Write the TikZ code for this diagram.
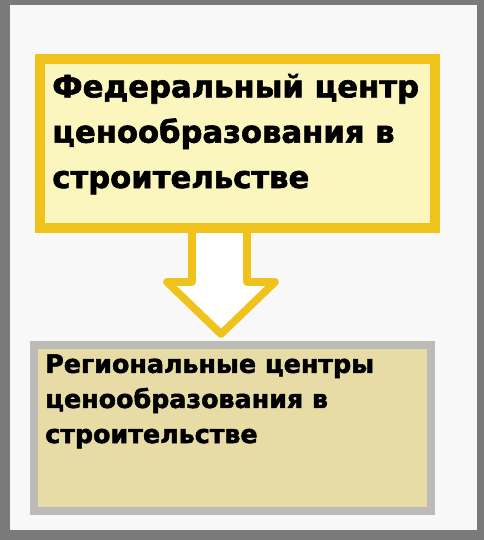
\documentclass[tikz,border=0pt]{standalone}
\usepackage{fontspec}
\setmainfont{DejaVu Sans}
\newfontfamily\heavyfont{DejaVu Sans Bold}[FakeBold=2]
\usetikzlibrary{calc}

\definecolor{framegray}{HTML}{7A7A7A}
\definecolor{pagebg}{HTML}{F8F8F8}
\definecolor{goldline}{HTML}{F0C21C}
\definecolor{fedfill}{HTML}{FAF6BE}
\definecolor{regline}{HTML}{BDBBB8}
\definecolor{regfill}{HTML}{E8DCA6}

\begin{document}
\begin{tikzpicture}
        [
            x = 0.75pt, y = -0.75pt,
            box/.style = {rectangle, inner sep=0pt},
            label/.style = {anchor=base west, align=left, inner sep=0pt}
        ]
        % page frame
        \fill[framegray] (0, 0) rectangle (484, 540);
        \fill[pagebg] (10, 5) rectangle (477, 530);
        \useasboundingbox (0, 0) rectangle (484, 540);

        \node [box, draw=goldline, line width=7.5pt, fill=fedfill,
               minimum width=296.25pt, minimum height=126.75pt] at (237.5, 143.5) (fed) {};
        \node [box, draw=regline, line width=6pt, fill=regfill,
               minimum width=297.75pt, minimum height=124.5pt] at (232.5, 428) (reg) {};

        % base of a wrapped node is the base of its last line
        \node [label, font=\heavyfont\fontsize{23}{34}\selectfont] at (52, 188) (fedtext)
            {Федеральный центр\\ценообразования в\\строительстве};
        \node [label, font=\heavyfont\fontsize{19}{26.3}\selectfont] at (45, 443) (regtext)
            {Региональные центры\\ценообразования в\\строительстве};

        % block arrow
        \draw[goldline, line width=5.75pt, line join=round, fill=white]
            ($(fed.south)+(-45.5, 0)$) -- ($(fed.south)+(-45.5, 49)$)
            -- ($(fed.south)+(-70.5, 49)$) -- ($(reg.north)+(-11.5, -7)$)
            -- ($(fed.south)+(37.5, 49)$) -- ($(fed.south)+(9.5, 49)$)
            -- ($(fed.south)+(9.5, 0)$);
    \end{tikzpicture}
\end{document}
